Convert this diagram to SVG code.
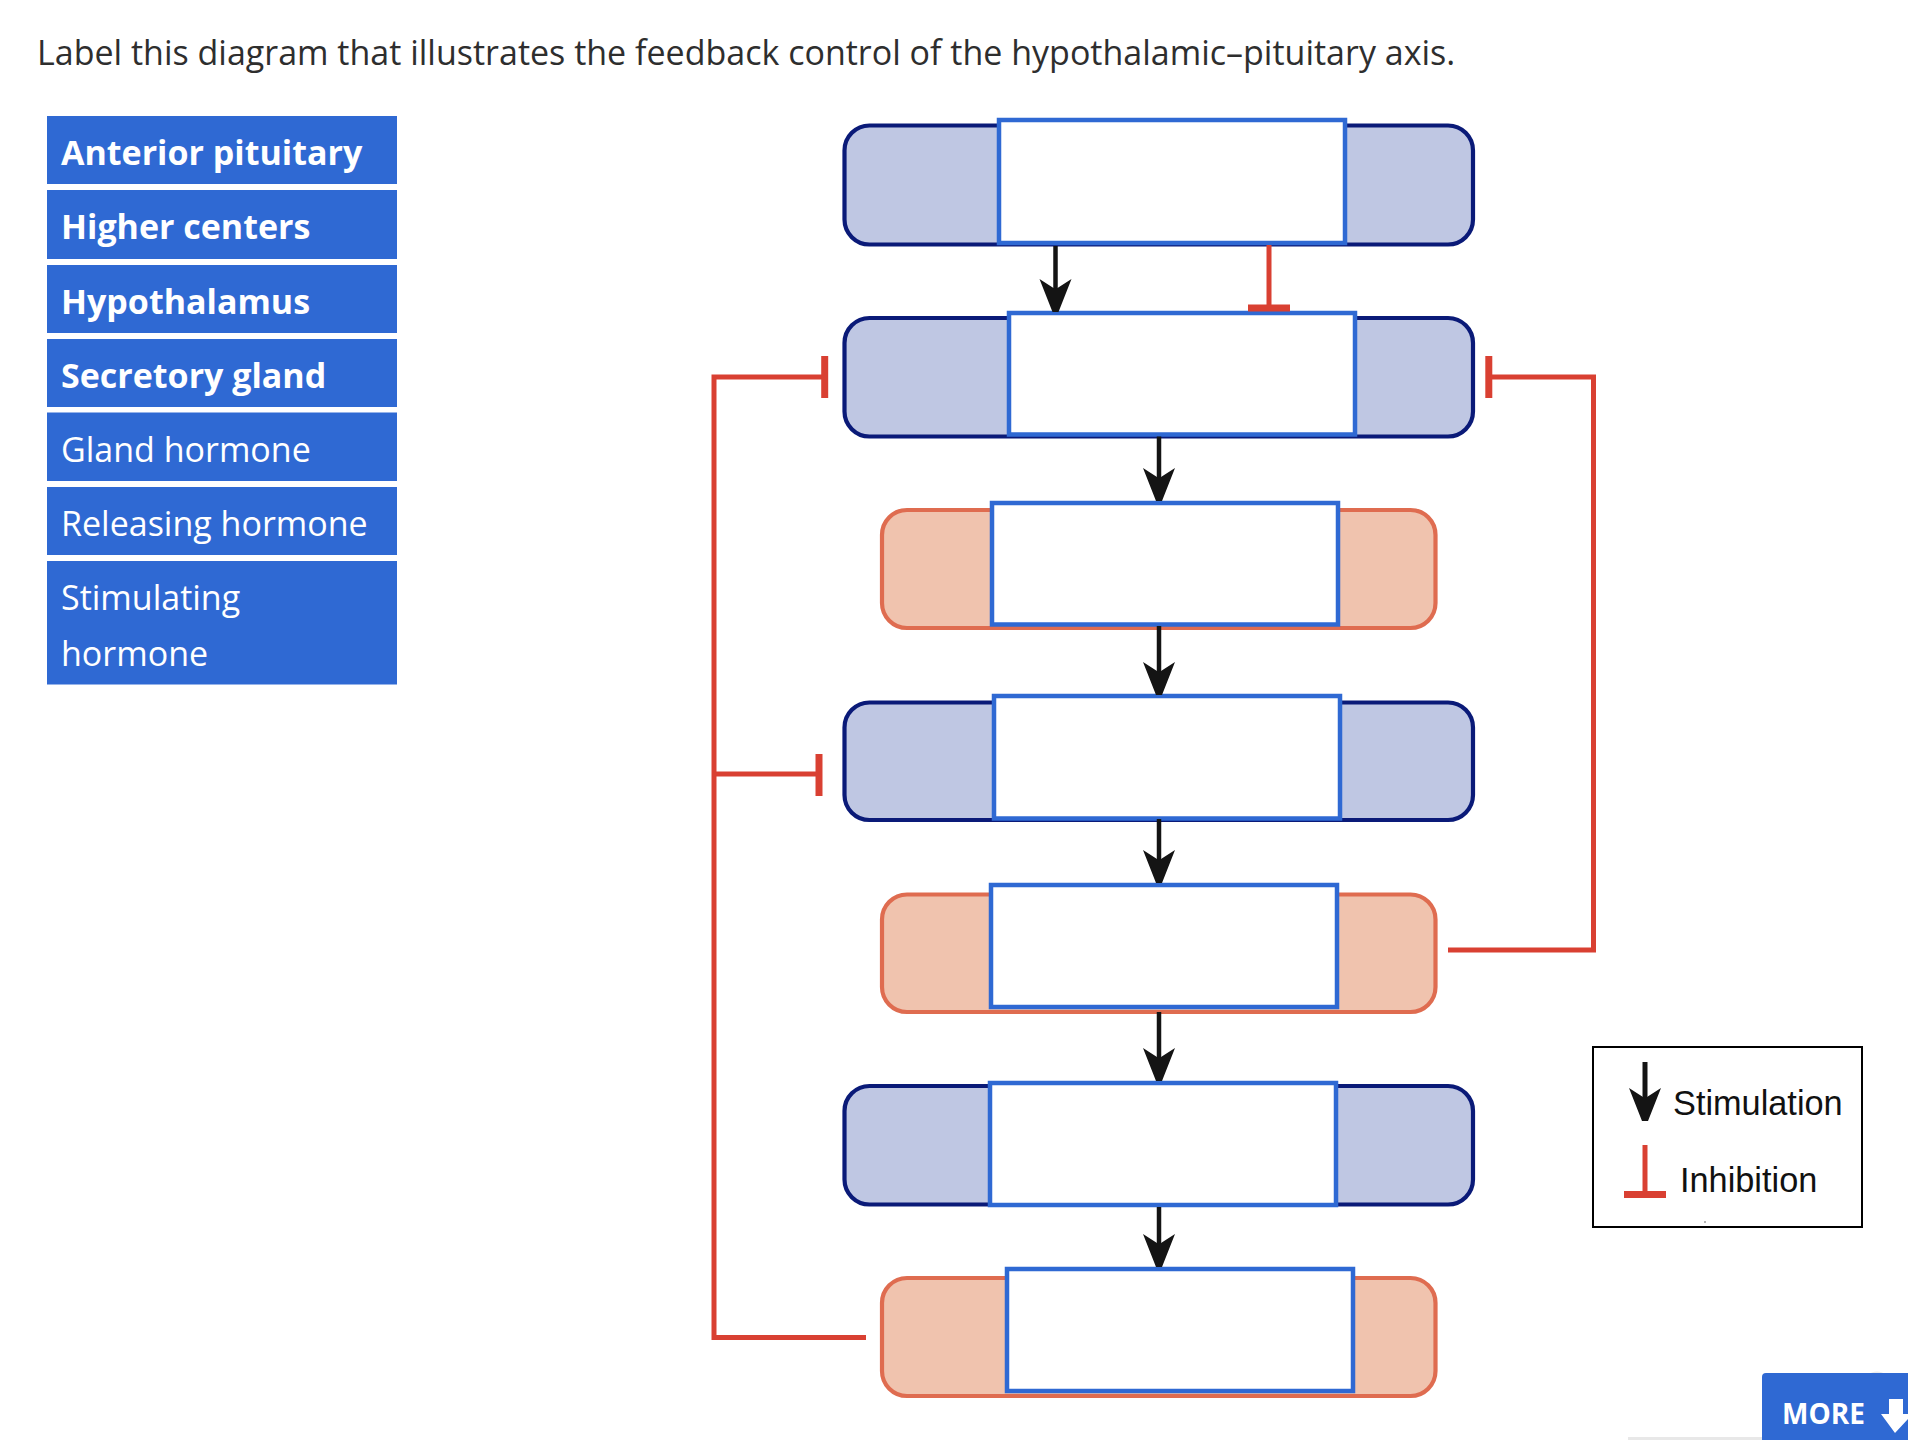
<svg xmlns="http://www.w3.org/2000/svg" width="1908" height="1440" viewBox="0 0 1908 1440">
<style>
text{font-family:"Open Sans","Noto Sans",sans-serif}
.bg{fill:#fff}
.title{font-size:34px;fill:#2e2e2e}
.chip{fill:#2f69d3}
.b{font-size:34px;font-weight:700;fill:#fff}
.r{font-size:34px;fill:#fff}
.navy{fill:#bfc7e3;stroke:#0a1a78;stroke-width:4.2}
.org{fill:#f0c3ae;stroke:#df6c50;stroke-width:4.2}
.slot{fill:#fff;stroke:#2f69d3;stroke-width:4.5}
.stim{stroke:#141414;stroke-width:4.5;fill:none;marker-end:url(#head)}
.inh{stroke:#d94032;stroke-width:5;fill:none}
.bar{stroke:#d94032;stroke-width:7;fill:none}
.leg{font-family:"Liberation Sans",Arial,sans-serif;font-size:34.3px;fill:#111}
</style>
<defs>
<marker id="head" markerUnits="userSpaceOnUse" markerWidth="34" markerHeight="34" refX="13" refY="16" orient="auto" viewBox="0 0 34 32">
<path d="M0,0 L9,14 L9,18 L0,32 L33,19 L33,13 Z" fill="#141414"/>
</marker>
</defs>
<rect class="bg" width="1908" height="1440"/>
<text id="title" class="title" x="37" y="65">Label this diagram that illustrates the feedback control of the hypothalamic–pituitary axis.</text>

<g id="palette">
<g id="chip-anterior-pituitary"><rect class="chip" x="47" y="116" width="350" height="68"/><text class="b" x="61" y="165">Anterior pituitary</text></g>
<g id="chip-higher-centers"><rect class="chip" x="47" y="190" width="350" height="69"/><text class="b" x="61" y="239">Higher centers</text></g>
<g id="chip-hypothalamus"><rect class="chip" x="47" y="265" width="350" height="68"/><text class="b" x="61" y="314">Hypothalamus</text></g>
<g id="chip-secretory-gland"><rect class="chip" x="47" y="339" width="350" height="68"/><text class="b" x="61" y="388">Secretory gland</text></g>
<g id="chip-gland-hormone"><rect class="chip" x="47" y="412.500" width="350" height="68.500"/><text class="r" x="61" y="461.500">Gland hormone</text></g>
<g id="chip-releasing-hormone"><rect class="chip" x="47" y="487" width="350" height="68"/><text class="r" x="61" y="536">Releasing hormone</text></g>
<g id="chip-stimulating-hormone"><rect class="chip" x="47" y="561" width="350" height="123.500"/><text class="r" x="61" y="609.500">Stimulating</text><text class="r" x="61" y="666">hormone</text></g>
</g>

<g id="node-1"><rect class="navy" x="844.5" y="125.5" width="628.500" height="119" rx="25"/><rect class="slot" x="999" y="120" width="346" height="123"/></g>
<g id="node-2"><rect class="navy" x="844.5" y="318" width="628.500" height="118.500" rx="25"/><rect class="slot" x="1009" y="313" width="346" height="121.500"/></g>
<g id="node-3"><rect class="org" x="882" y="510" width="553.500" height="118" rx="25"/><rect class="slot" x="992" y="503" width="346" height="121.500"/></g>
<g id="node-4"><rect class="navy" x="844.5" y="702.500" width="628.500" height="117.500" rx="25"/><rect class="slot" x="994" y="696" width="346" height="122.500"/></g>
<g id="node-5"><rect class="org" x="882" y="894.500" width="553.500" height="117.500" rx="25"/><rect class="slot" x="991" y="885" width="346" height="122"/></g>
<g id="node-6"><rect class="navy" x="844.5" y="1086" width="628.500" height="118.500" rx="25"/><rect class="slot" x="990" y="1083" width="346" height="122"/></g>
<g id="node-7"><rect class="org" x="882" y="1278" width="553.500" height="118" rx="25"/><rect class="slot" x="1007" y="1269" width="346" height="122"/></g>

<g id="connectors">
<path class="stim" d="M1055.5,246V292"/>
<path class="stim" d="M1159,436.500V481"/>
<path class="stim" d="M1159,626V675"/>
<path class="stim" d="M1159,819V863"/>
<path class="stim" d="M1159,1012V1061"/>
<path class="stim" d="M1159,1207V1247"/>
<path class="inh" d="M1269,245V306"/>
<path class="bar" d="M1248,308H1290"/>
<path class="inh" d="M866,1337.5H714V377H825"/>
<path class="bar" d="M824.7,356V398"/>
<path class="inh" d="M714,774H818"/>
<path class="bar" d="M819,754V796"/>
<path class="inh" d="M1448,950H1593.5V377H1489"/>
<path class="bar" d="M1488.8,356V398"/>
</g>

<g id="legend">
<rect x="1593" y="1047" width="269" height="180" fill="#fff" stroke="#000" stroke-width="2"/>
<path class="stim" style="stroke-width:5" d="M1645,1062V1101"/>
<text class="leg" x="1673" y="1115">Stimulation</text>
<path class="inh" d="M1645,1145V1192"/>
<path class="bar" d="M1624,1194.500H1666"/>
<text class="leg" x="1680" y="1191.500">Inhibition</text>
<circle cx="1705" cy="1222" r="0.8" fill="#555"/>
</g>

<g id="more-button">
<rect x="1628" y="1437" width="140" height="3" fill="#e8e8e8"/>
<circle cx="1877" cy="1385" r="12" fill="none" stroke="#ececec" stroke-width="3"/>
<path d="M1762,1440V1377a4,4 0 0 1 4,-4H1908V1440Z" fill="#2f69d3"/>
<text x="1782" y="1424" font-size="28" font-weight="700" fill="#fff">MORE</text>
<path d="M1889,1399H1903V1414H1908V1419L1895,1433L1881,1414H1889Z" fill="#fff"/>
</g>
</svg>
